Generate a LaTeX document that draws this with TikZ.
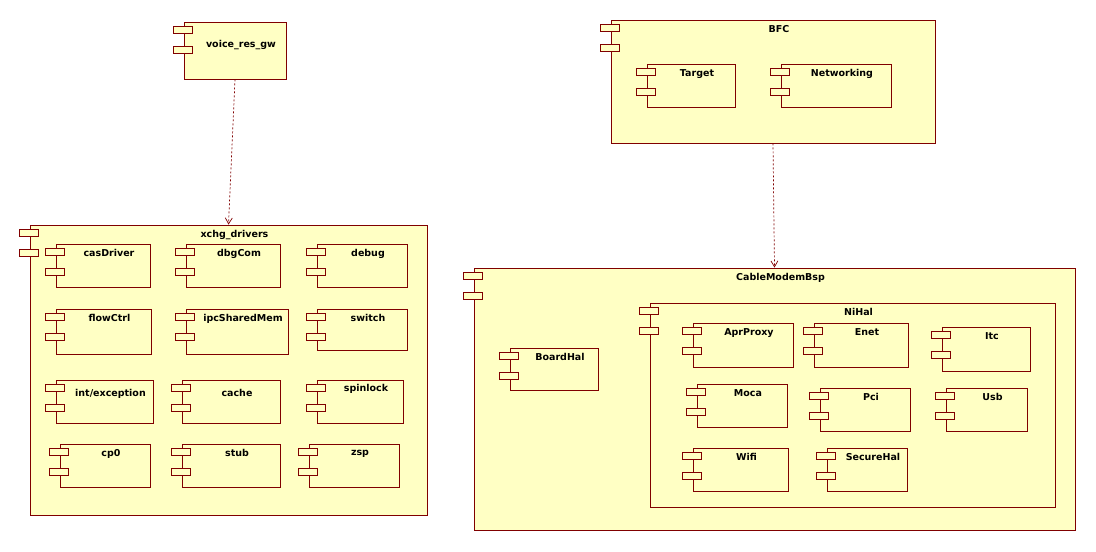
\documentclass[tikz,border=0pt]{standalone}
\usepackage{fontspec}
\setmainfont{DejaVu Sans}
\usetikzlibrary{arrows.meta}
\definecolor{umlred}{HTML}{800000}
\definecolor{umlfill}{HTML}{FFFFC4}
\tikzset{
  comp/.style={draw=umlred,fill=umlfill,line width=0.9pt,inner sep=0pt},
  tab/.style={draw=umlred,fill=umlfill,line width=0.9pt},
  lbl/.style={anchor=north,font=\bfseries\fontsize{9.5}{11}\selectfont,inner sep=0pt},
  dep/.style={draw=umlred,dashed,dash pattern=on 2pt off 2pt,line width=0.7pt,-{Straight Barb[length=6pt,width=7pt]}}
}
% name, x1, y1, x2, y2, label, [label drop]
\newcommand\umlcomp[7][-6]{%
  \node[comp,minimum width={(#5-#3)*1pt},minimum height={(#6-#4)*1pt}] (#2) at ({(#3+#5)/2},{(#4+#6)/2}) {};
  \node[lbl] (#2-l) at ([xshift=6pt,yshift=#1pt]#2.north) {#7};
  \draw[tab] ([xshift=-10pt,yshift=-5pt]#2.north west) rectangle ++(19pt,-7pt);
  \draw[tab] ([xshift=-10pt,yshift=-25pt]#2.north west) rectangle ++(19pt,-7pt);
}
\begin{document}
\begin{tikzpicture}[x=1pt,y=-1pt]
\useasboundingbox (0,0) rectangle (1096,552);

\umlcomp[-19]{voice}{184}{22}{286}{79}{voice\_res\_gw}

\umlcomp{xchg}{30}{225}{427}{515}{xchg\_drivers}
\umlcomp{cas}{56}{244}{150}{287}{casDriver}
\umlcomp{dbg}{186}{244}{280}{287}{dbgCom}
\umlcomp{debug}{317}{244}{407}{287}{debug}
\umlcomp{flow}{56}{309}{151}{354}{flowCtrl}
\umlcomp{ipc}{186}{309}{288}{354}{ipcSharedMem}
\umlcomp{switch}{317}{309}{407}{350}{switch}
\umlcomp[-10]{int}{56}{380}{153}{423}{int/exception}
\umlcomp[-10]{cache}{182}{380}{280}{423}{cache}
\umlcomp[-5]{spin}{317}{380}{403}{423}{spinlock}
\umlcomp{cp}{60}{444}{150}{487}{cp0}
\umlcomp{stub}{182}{444}{280}{487}{stub}
\umlcomp{zsp}{309}{444}{399}{487}{zsp}

\umlcomp{bfc}{611}{20}{935}{143}{BFC}
\umlcomp{target}{647}{64}{735}{107}{Target}
\umlcomp{net}{781}{64}{891}{107}{Networking}

\umlcomp{cmb}{474}{268}{1075}{530}{CableModemBsp}
\umlcomp{board}{510}{348}{598}{390}{BoardHal}
\umlcomp{nihal}{650}{303}{1055}{507}{NiHal}
\umlcomp{apr}{693}{323}{793}{367}{AprProxy}
\umlcomp{enet}{814}{323}{908}{367}{Enet}
\umlcomp{itc}{942}{327}{1030}{371}{Itc}
\umlcomp{moca}{697}{384}{787}{427}{Moca}
\umlcomp{pci}{820}{388}{910}{431}{Pci}
\umlcomp{usb}{946}{388}{1027}{431}{Usb}
\umlcomp{wifi}{693}{448}{788}{491}{Wifi}
\umlcomp{secure}{827}{448}{907}{491}{SecureHal}

\draw[dep] (voice.south) -- (xchg.north);
\draw[dep] (bfc.south) -- (cmb.north);
\end{tikzpicture}
\end{document}
